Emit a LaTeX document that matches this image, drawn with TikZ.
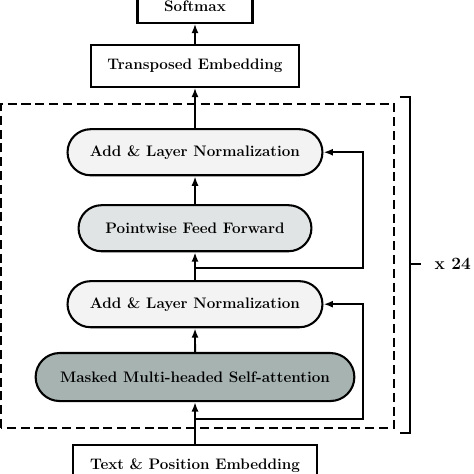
\documentclass[tikz,border=0pt]{standalone}
\usepackage{tikz}
\usetikzlibrary{shapes.misc, arrows.meta}
\definecolor{grisclaro}{HTML}{F3F3F3}
\definecolor{grismedio}{HTML}{E1E4E4}
\definecolor{grisverde}{HTML}{A6B3B1}
\tikzstyle{flecha} = [line width=1.4pt,-{Latex[length=2.4mm,width=1.8mm]}]
\tikzstyle{caja} = [rectangle,
                    draw=black,
                    line width=1.5pt,
                    minimum height=1.067cm,
                    text centered,
                    font=\fontsize{11}{13}\selectfont\bfseries]
\tikzstyle{capa} = [rounded rectangle,
                    draw=black,
                    line width=1.5pt,
                    minimum height=1.17cm,
                    text centered,
                    font=\fontsize{11}{13}\selectfont\bfseries]
\tikzstyle{contenedor} = [draw=black,
                          line width=1.4pt,
                          dash pattern=on 2.3mm off 1.2mm]
\begin{document}
\begin{tikzpicture}[node distance=1.93cm]
        \useasboundingbox (0,0) rectangle (12.04,12.04);
        \node (TextPos) [caja, minimum width=6.2cm] at (4.953,0.203) {Text \& Position Embedding};
        \node (Atencion) [capa, fill=grisverde, minimum width=8.33cm, minimum height=1.22cm, above of=TextPos, yshift=0.33cm] {Masked Multi-headed Self-attention};
        \node (Norm2) [capa, fill=grisclaro, minimum width=6.71cm, above of=Atencion, yshift=-0.08cm] {Add \& Layer Normalization};
        \node (FeedFwd) [capa, fill=grismedio, minimum width=6.15cm, above of=Norm2] {Pointwise Feed Forward};
        \node (Norm1) [capa, fill=grisclaro, minimum width=6.71cm, above of=FeedFwd] {Add \& Layer Normalization};
        \node (Transp) [caja, minimum width=5.26cm, above of=Norm1, yshift=0.27cm] {Transposed Embedding};
        \node (Softmax) [caja, minimum width=2.92cm, minimum height=0.82cm, above of=Transp, yshift=-0.43cm] {Softmax};

        % residuales
        \coordinate (aux1) at ([yshift=-4.3mm]Atencion.south);
        \coordinate (giro1) at ([xshift=1cm]Norm2.east);
        \coordinate (aux2) at ([yshift=3mm]Norm2.north);
        \coordinate (giro2) at ([xshift=1cm]Norm1.east);

        \draw [contenedor] (0.025,1.168) rectangle (10.01,9.398);

        % corchete x 24
        \draw [line width=1.5pt] (10.16,9.576) -- (10.41,9.576) -- (10.41,1.041) -- (10.16,1.041);
        \draw [line width=1.5pt] (10.41,5.334) -- (10.69,5.334);
        \node (Repite) [anchor=west, inner sep=0pt, font=\fontsize{12.5}{14}\selectfont\bfseries] at (11.03,5.334) {x 24};

        \draw [flecha] (TextPos) -- (Atencion);
        \draw [flecha] (Atencion) -- (Norm2);
        \draw [flecha] (Norm2) -- (FeedFwd);
        \draw [flecha] (FeedFwd) -- (Norm1);
        \draw [flecha] (Norm1) -- (Transp);
        \draw [flecha] (Transp) -- (Softmax);
        \draw [flecha] (aux1) -| (giro1) -- (Norm2.east);
        \draw [flecha] (aux2) -| (giro2) -- (Norm1.east);
    \end{tikzpicture}
\end{document}
